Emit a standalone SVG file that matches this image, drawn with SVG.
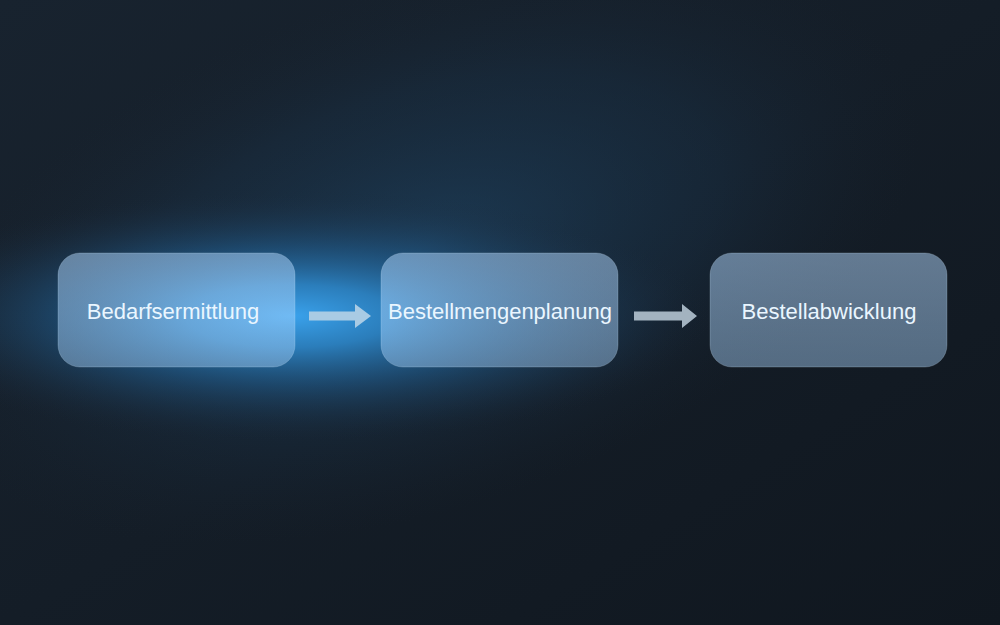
<svg xmlns="http://www.w3.org/2000/svg" width="1000" height="625" viewBox="0 0 1000 625">
  <defs>
    <linearGradient id="bg" x1="0" y1="0" x2="1" y2="1">
      <stop offset="0" stop-color="#18232f"/>
      <stop offset="1" stop-color="#10171f"/>
    </linearGradient>
    <radialGradient id="haze" cx="420" cy="250" r="520" gradientUnits="userSpaceOnUse" gradientTransform="translate(420 250) rotate(-18) scale(1 0.5) translate(-420 -250)">
      <stop offset="0" stop-color="#235680" stop-opacity="0.5"/>
      <stop offset="0.6" stop-color="#1d3d5a" stop-opacity="0.28"/>
      <stop offset="1" stop-color="#1a2736" stop-opacity="0"/>
    </radialGradient>
    <radialGradient id="glow" cx="290" cy="316" r="420" gradientUnits="userSpaceOnUse" gradientTransform="translate(290 316) scale(1 0.3) translate(-290 -316)">
      <stop offset="0" stop-color="#3aa2ec" stop-opacity="1"/>
      <stop offset="0.25" stop-color="#2d86c8" stop-opacity="0.9"/>
      <stop offset="0.55" stop-color="#215e90" stop-opacity="0.55"/>
      <stop offset="1" stop-color="#1b2838" stop-opacity="0"/>
    </radialGradient>
    <linearGradient id="boxfill" x1="0" y1="0" x2="0" y2="1">
      <stop offset="0" stop-color="#b4d9ff" stop-opacity="0.5"/>
      <stop offset="1" stop-color="#a8d2fa" stop-opacity="0.44"/>
    </linearGradient>
    <style>
      .box { fill: url(#boxfill); stroke: #d8ecff; stroke-opacity: 0.22; stroke-width: 1; }
      .lbl { font-family: "Liberation Sans", Arial, sans-serif; font-size: 22px; fill: #eaf6ff; text-anchor: middle; dominant-baseline: central; }
      .arr { fill: #a9cbe4; }
    </style>
  </defs>
  <rect width="1000" height="625" fill="url(#bg)"/>
  <rect width="1000" height="625" fill="url(#haze)"/>
  <rect width="1000" height="625" fill="url(#glow)"/>

  <g id="connectors">
    <polygon class="arr" points="309,311.5 355,311.5 355,304 371,316 355,328 355,320.5 309,320.5"/>
    <polygon class="arr" points="634,311.5 682,311.5 682,304 697,316 682,328 682,320.5 634,320.5" style="fill:#a3b3c0"/>
  </g>

  <g id="node-bedarfsermittlung">
    <rect class="box" x="58" y="253" width="237" height="114" rx="22"/>
    <text class="lbl" x="173" y="311">Bedarfsermittlung</text>
  </g>
  <g id="node-bestellmengenplanung">
    <rect class="box" x="381" y="253" width="237" height="114" rx="22"/>
    <text class="lbl" x="500" y="311">Bestellmengenplanung</text>
  </g>
  <g id="node-bestellabwicklung">
    <rect class="box" x="710" y="253" width="237" height="114" rx="22"/>
    <text class="lbl" x="829" y="311">Bestellabwicklung</text>
  </g>
</svg>
